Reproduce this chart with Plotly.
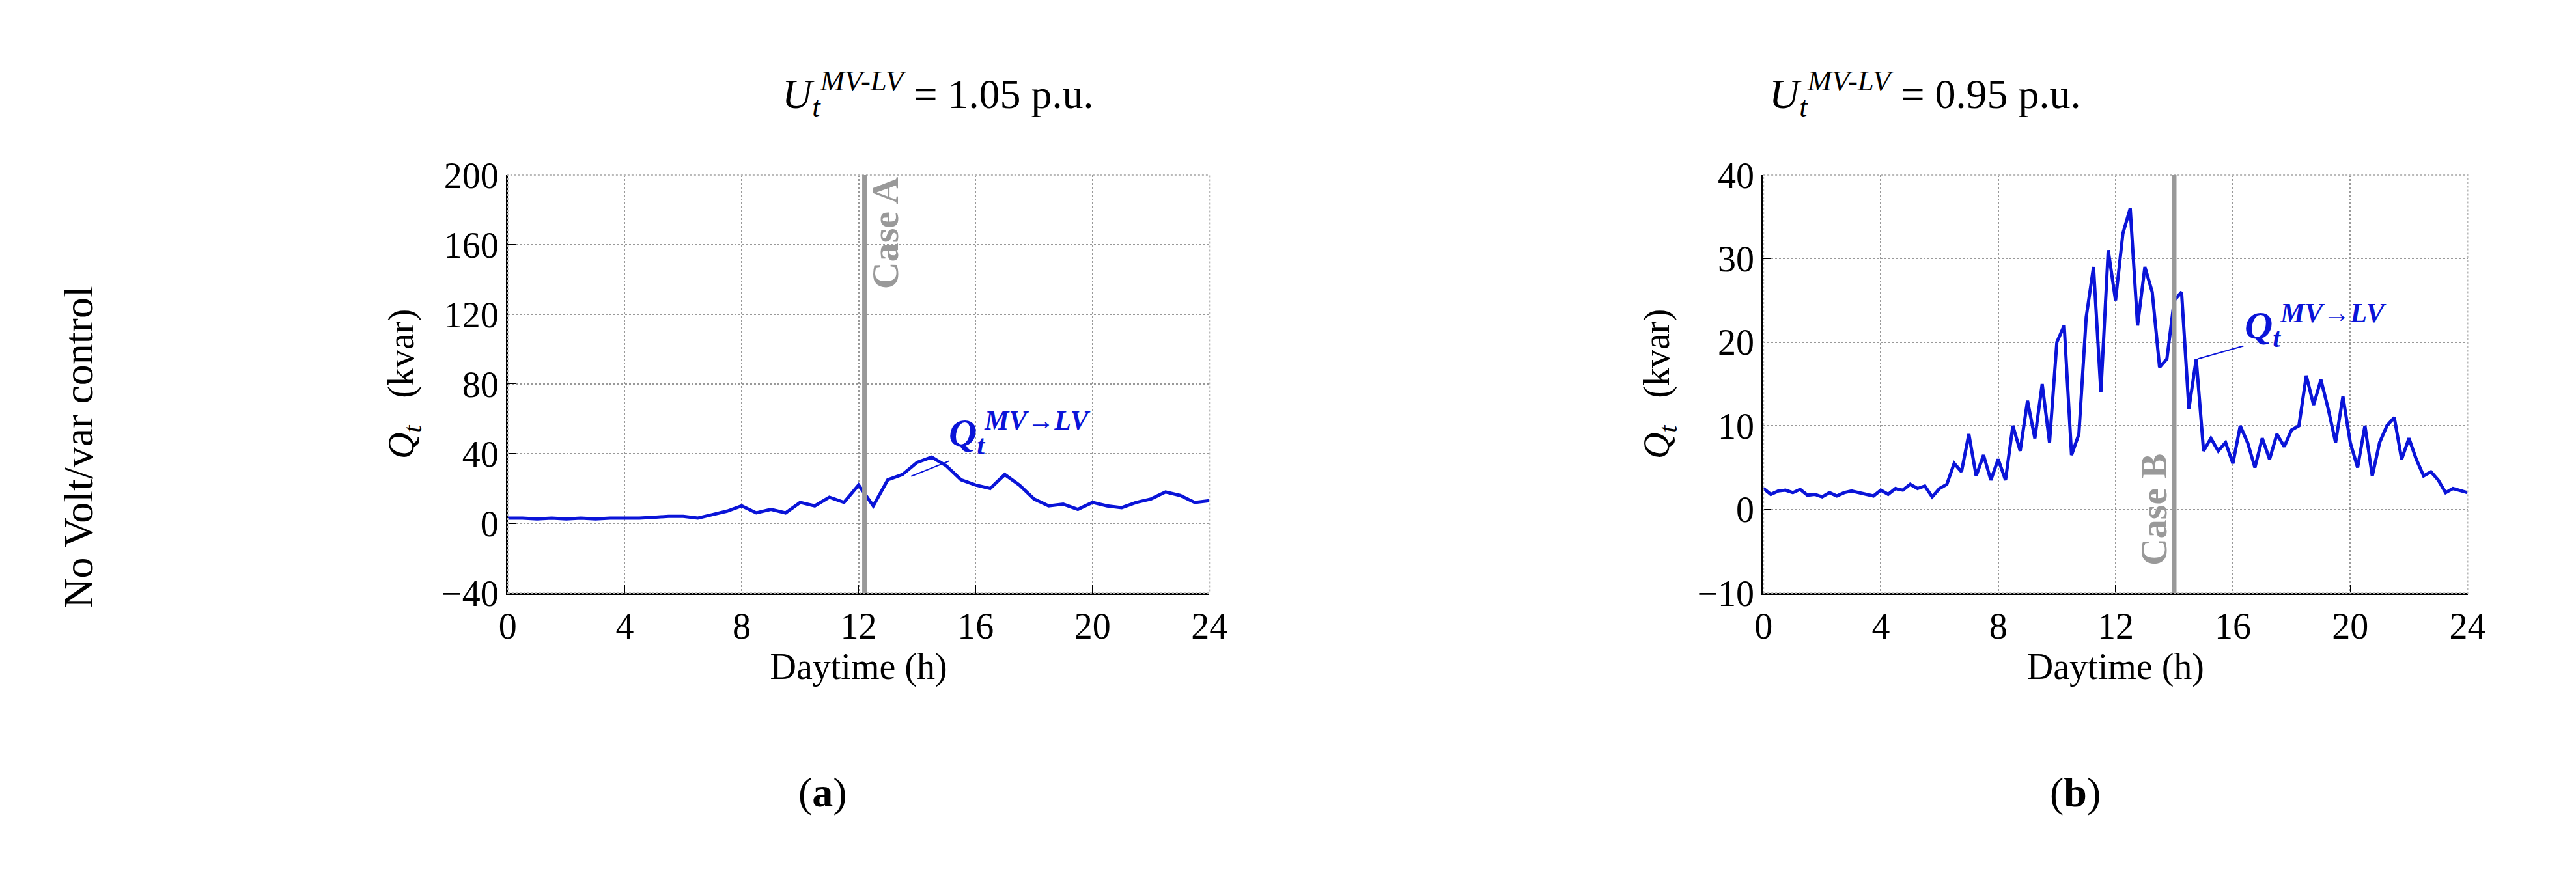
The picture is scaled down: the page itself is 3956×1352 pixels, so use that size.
import numpy as np
import plotly.graph_objects as go

hours_a = [i * 0.5 for i in range(49)]
q_a = [3, 3, 2.5, 3, 2.5, 3, 2.5, 3, 3, 3, 3.5, 4, 4, 3, 5, 7, 10, 6, 8, 6,
       12, 10, 15, 12, 22, 10, 25, 28, 35, 38, 33, 25, 22, 20, 28, 22, 14, 10,
       11, 8, 12, 10, 9, 12, 14, 18, 16, 12, 13, 10, 8, 13, 10, 12, 8, 7, 5, 3]
q_a = q_a[:49]
hours_b = [i * 0.25 for i in range(97)]
q_b = [2.5, 1.8, 2.2, 2.3, 2.0, 2.4, 1.7, 1.8, 1.5, 2.0, 1.6, 2.0, 2.2, 2.0, 1.8, 1.6,
       2.3, 1.8, 2.5, 2.3, 3.0, 2.5, 2.8, 1.5, 2.5, 3.0, 5.5, 4.5, 9.0, 4.0, 6.5, 3.5,
       6.0, 3.5, 10.0, 7.0, 13.0, 8.5, 15.0, 8.0, 20.0, 22.0, 6.5, 9.0, 23.0, 29.0, 14.0, 31.0,
       25.0, 33.0, 36.0, 22.0, 29.0, 26.0, 17.0, 18.0, 25.0, 26.0, 12.0, 18.0, 7.0, 8.5, 7.0, 8.0,
       5.5, 10.0, 8.0, 5.0, 8.5, 6.0, 9.0, 7.5, 9.5, 10.0, 16.0, 12.5, 15.5, 12.0, 8.0, 13.5,
       8.0, 5.0, 10.0, 4.0, 8.0, 10.0, 11.0, 6.0, 8.5, 6.0, 4.0, 4.5, 3.5, 2.0, 2.5, 2.2, 2.0]
xticks = [0, 4, 8, 12, 16, 20, 24]
yticks_a = [-40, 0, 40, 80, 120, 160, 200]
yticks_b = [-10, 0, 10, 20, 30, 40]
case_a_x = 12.2
case_b_x = 14.0

FONT = "Liberation Serif"
fig = go.Figure()
fig.add_trace(go.Scatter(x=hours_a, y=q_a, mode="lines", line=dict(color="#0a14d8", width=5), xaxis="x", yaxis="y"))
fig.add_trace(go.Scatter(x=hours_b, y=q_b, mode="lines", line=dict(color="#0a14d8", width=5), xaxis="x2", yaxis="y2"))

W, H = 3956, 1352
def xd(px): return px / W
def yd(py): return 1 - py / H

axcommon = dict(showgrid=True, gridcolor="#999", griddash="dot", gridwidth=2,
                showline=True, linecolor="black", linewidth=3, ticks="inside", ticklen=12,
                tickcolor="black", tickfont=dict(family=FONT, size=56, color="black"),
                zeroline=False)
tf = dict(family=FONT, size=56, color="black")
fig.update_layout(
    width=W, height=H, paper_bgcolor="white", plot_bgcolor="white", showlegend=False,
    margin=dict(l=0, r=0, t=0, b=0),
    xaxis=dict(domain=[xd(766), xd(1855)], range=[0, 24], tickvals=xticks, anchor="y",
               title=dict(text="Daytime (h)", font=tf, standoff=5), **axcommon),
    yaxis=dict(domain=[yd(915), yd(242)], range=[-40, 200], tickvals=yticks_a, anchor="x",
               title=dict(text="<i>Q<sub>t</sub></i>   (kvar)", font=tf, standoff=25), **axcommon),
    xaxis2=dict(domain=[xd(2715), xd(3808)], range=[0, 24], tickvals=xticks, anchor="y2",
                title=dict(text="Daytime (h)", font=tf, standoff=5), **axcommon),
    yaxis2=dict(domain=[yd(915), yd(242)], range=[-10, 40], tickvals=yticks_b, anchor="x2",
                title=dict(text="<i>Q<sub>t</sub></i>   (kvar)", font=tf, standoff=25), **axcommon),
)
for xr, yr in [("x", "y"), ("x2", "y2")]:
    fig.add_shape(type="rect", xref=xr + " domain", yref=yr + " domain", x0=0, x1=1, y0=0, y1=1,
                  line=dict(color="#bbb", width=2, dash="dot"))
fig.add_shape(type="line", xref="x", yref="y domain", x0=case_a_x, x1=case_a_x, y0=0, y1=1,
              line=dict(color="#999", width=7))
fig.add_shape(type="line", xref="x2", yref="y2 domain", x0=case_b_x, x1=case_b_x, y0=0, y1=1,
              line=dict(color="#999", width=7))
fig.add_annotation(x=case_a_x + 0.7, y=167, xref="x", yref="y", text="<b>Case A</b>", textangle=-90,
                   showarrow=False, font=dict(family=FONT, size=58, color="#999"))
fig.add_annotation(x=case_b_x - 0.7, y=0, xref="x2", yref="y2", text="<b>Case B</b>", textangle=-90,
                   showarrow=False, font=dict(family=FONT, size=58, color="#999"))
lab = "<b><i>Q<sub>t</sub><sup>MV→LV</sup></i></b>"
fig.add_annotation(x=13.8, y=27, ax=17.5, ay=52, xref="x", yref="y", axref="x", ayref="y", text=lab,
                   showarrow=True, arrowhead=0, arrowwidth=2, arrowcolor="#0a14d8",
                   font=dict(family=FONT, size=60, color="#0a14d8"), xanchor="center")
fig.add_annotation(x=14.8, y=18, ax=18.8, ay=22, xref="x2", yref="y2", axref="x2", ayref="y2", text=lab,
                   showarrow=True, arrowhead=0, arrowwidth=2, arrowcolor="#0a14d8",
                   font=dict(family=FONT, size=60, color="#0a14d8"), xanchor="center")
tfont = dict(family=FONT, size=64, color="black")
fig.add_annotation(x=xd(1190), y=yd(62), xref="paper", yref="paper", showarrow=False,
                   text="<i>U<sub>t</sub><sup>MV-LV</sup></i> = 1.05 p.u.", font=tfont)
fig.add_annotation(x=xd(3210), y=yd(62), xref="paper", yref="paper", showarrow=False,
                   text="<i>U<sub>t</sub><sup>MV-LV</sup></i> = 0.95 p.u.", font=tfont)
fig.add_annotation(x=xd(62), y=yd(680), xref="paper", yref="paper", showarrow=False, textangle=-90,
                   text="No Volt/var control", font=dict(family=FONT, size=64, color="black"))
fig.add_annotation(x=xd(1215), y=yd(1275), xref="paper", yref="paper", showarrow=False,
                   text="(<b>a</b>)", font=tfont)
fig.add_annotation(x=xd(3240), y=yd(1275), xref="paper", yref="paper", showarrow=False,
                   text="(<b>b</b>)", font=tfont)
fig.write_html("out.html")
